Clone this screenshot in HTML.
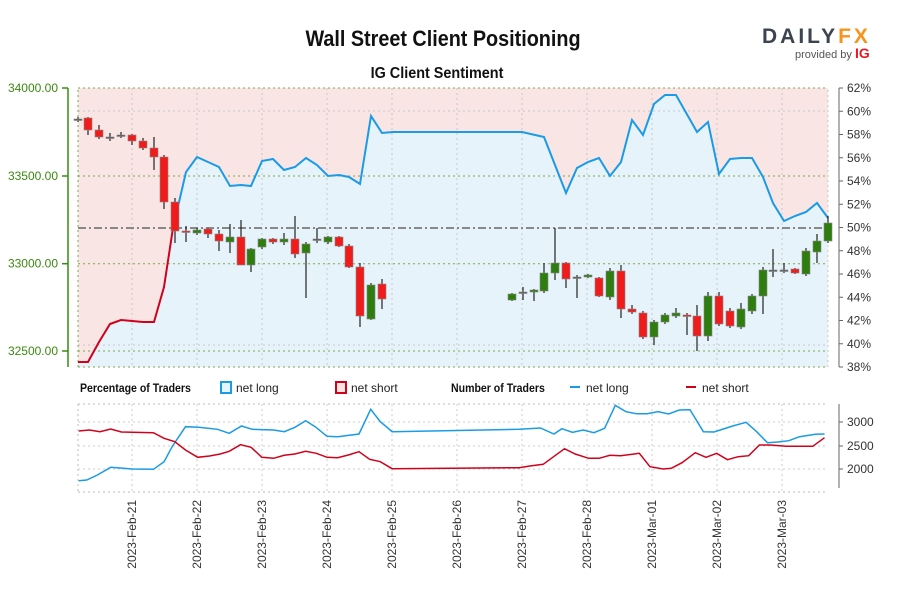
<!DOCTYPE html>
<html><head><meta charset="utf-8"><style>
body{margin:0;background:#fff;width:900px;height:600px;overflow:hidden;font-family:"Liberation Sans",sans-serif}
</style></head><body>
<svg id="s" width="900" height="600" xmlns="http://www.w3.org/2000/svg" font-family="Liberation Sans, sans-serif">
<text x="443" y="46" text-anchor="middle" font-size="22" font-weight="bold" fill="#111" transform="translate(443,0) scale(0.9,1) translate(-443,0)">Wall Street Client Positioning</text>
<text x="437" y="78" text-anchor="middle" font-size="16" font-weight="bold" fill="#111" transform="translate(437,0) scale(0.9,1) translate(-437,0)">IG Client Sentiment</text>
<text x="762" y="43" font-size="21" font-weight="bold" fill="#3d4450" letter-spacing="3">DAILY<tspan fill="#f7941d">FX</tspan></text>
<text x="795" y="58" font-size="11" fill="#555">provided by <tspan fill="#e31b23" font-weight="bold" font-size="14">IG</tspan></text>
<g id="main"></g>
</svg>
<script>
const NS="http://www.w3.org/2000/svg",g=document.getElementById('main');
function el(t,a,txt){const e=document.createElementNS(NS,t);for(const k in a)e.setAttribute(k,a[k]);if(txt!=null)e.textContent=txt;g.appendChild(e);return e}
const L=78,R=828,T=88,B=367;
const line=[[78,362],[88,362],[99,342],[110,324],[121,320],[132,321],[143,322],[154,322],[164,287],[173,228],[186,172],[197,157],[208,162],[219,167],[230,186],[241,185],[251,186],[262,161],[273,159],[284,170],[295,167],[306,158],[317,165],[328,176],[339,175],[349,177],[360,184],[371,116],[382,133],[393,132],[522,132],[544,137],[566,193],[577,168],[588,162],[599,158],[610,176],[621,162],[632,120],[643,135],[654,104],[665,95],[676,95],[697,132],[708,122],[719,174],[730,159],[741,158],[752,158],[763,177],[773,203],[784,221],[795,216],[806,212],[817,203],[828,218]];
const pts=line.map(p=>p.join(',')).join(' ');
el('rect',{x:L,y:T,width:R-L,height:B-T,fill:'#fae5e5'});
el('polygon',{points:pts+` ${R},${B} ${L},${B}`,fill:'#e6f3fb'});
const days=[132,197,262,327,392,457,522,587,652,717,782];
days.forEach(x=>el('line',{x1:x,y1:T,x2:x,y2:B,stroke:'#c8c8c8','stroke-dasharray':'2,3'}));
[111,345].forEach(y=>el('line',{x1:L,y1:y,x2:R,y2:y,stroke:'#c8c8c8','stroke-dasharray':'2,3'}));
[88,176,263.7,351,367].forEach(y=>el('line',{x1:L,y1:y,x2:R,y2:y,stroke:'#7aa84a','stroke-dasharray':'2,3'}));
el('line',{x1:L,y1:B,x2:L,y2:T,stroke:'#7aa84a','stroke-dasharray':'2,3'});
el('line',{x1:R,y1:B,x2:R,y2:T,stroke:'#c8c8c8','stroke-dasharray':'2,3'});
el('line',{x1:L,y1:228,x2:R,y2:228,stroke:'#888','stroke-width':2,'stroke-dasharray':'8,3,2,3'});
const idx=line.findIndex(p=>p[0]==173);
el('polyline',{points:line.slice(0,idx+1).map(p=>p.join(',')).join(' '),fill:'none',stroke:'#d0021b','stroke-width':2});
el('polyline',{points:line.slice(idx).map(p=>p.join(',')).join(' '),fill:'none',stroke:'#1a9be6','stroke-width':2});
el('line',{x1:68,y1:88,x2:68,y2:367,stroke:'#3a8a10','stroke-width':1.5});
[[34000,88],[33500,176],[33000,263.7],[32500,351]].forEach(([v,y])=>{el('line',{x1:62,y1:y,x2:68,y2:y,stroke:'#3a8a10','stroke-width':1.5});el('text',{x:58,y:y+4,'text-anchor':'end','font-size':12,fill:'#3a8a10'},v.toFixed(2))});
el('line',{x1:839,y1:88,x2:839,y2:367,stroke:'#666'});
for(let i=0;i<13;i++){const v=62-2*i,y=88+i*23.25;el('line',{x1:839,y1:y,x2:843,y2:y,stroke:'#666'});el('text',{x:847,y:y+4,'font-size':12,fill:'#333'},v+'%')}
const C=[[78,119,119,117,122],[88,118,130,117,135],[99,130,137,125,139],[110,137,137,133,141],[121,135,135,132,138],[132,135,141,134,145],[143,141,148,138,150],[154,148,157,137,170],[164,157,202,155,209],[175,202,231,198,243],[186,231,232,226,242],[197,233,230,228,235],[208,229,234,228,238],[219,234,241,230,251],[230,242,237,224,253],[241,237,265,220,265],[251,265,249,248,272],[262,247,239,238,249],[273,239,242,238,244],[284,242,239,233,245],[295,239,254,216,258],[306,253,244,242,298],[317,239,239,228,243],[328,242,237,236,244],[339,237,246,236,247],[349,246,267,244,268],[360,267,316,263,327],[371,319,285,283,320],[382,284,299,279,309],[512,300,294,293,301],[523,292,292,287,300],[534,292,290,289,301],[544,291,273,263,293],[555,273,263,228,280],[566,263,279,262,288],[577,277,277,275,298],[588,277,275,274,278],[599,278,296,277,297],[610,297,271,268,300],[621,271,309,265,318],[632,309,312,305,314],[643,313,337,311,339],[654,337,322,320,345],[665,322,315,313,324],[676,316,313,308,318],[687,315,316,313,335],[697,316,336,305,351],[708,336,296,292,341],[719,296,324,292,326],[730,311,326,308,328],[741,327,309,303,329],[752,311,296,294,314],[763,296,270,267,314],[773,270,270,249,277],[784,270,270,263,273],[795,269,273,268,274],[806,274,251,248,276],[817,252,241,234,263],[828,241,223,216,243]];
C.forEach(([x,o,c,h,l])=>{el('line',{x1:x,y1:h,x2:x,y2:l,stroke:'#222','stroke-width':1.2});const top=Math.min(o,c),ht=Math.max(Math.abs(o-c),1.5);const col=Math.abs(o-c)<1?'#555':(c<o?'#2e7d0e':'#f01c1c');el('rect',{x:x-4,y:top,width:8,height:ht,fill:col,stroke:'#888','stroke-width':0.6})});
el('text',{x:80,y:392,'font-size':12,'font-weight':'bold',fill:'#111',transform:'translate(80,0) scale(0.88,1) translate(-80,0)'},'Percentage of Traders');
el('rect',{x:221,y:382,width:10,height:11,fill:'#e6f3fb',stroke:'#1a9be6','stroke-width':2});
el('text',{x:236,y:392,'font-size':12,fill:'#222'},'net long');
el('rect',{x:336,y:382,width:10,height:11,fill:'#fae5e5',stroke:'#d0021b','stroke-width':2});
el('text',{x:351,y:392,'font-size':12,fill:'#222'},'net short');
el('text',{x:451,y:392,'font-size':12,'font-weight':'bold',fill:'#111',transform:'translate(451,0) scale(0.88,1) translate(-451,0)'},'Number of Traders');
el('line',{x1:570,y1:387,x2:580,y2:387,stroke:'#1a9be6','stroke-width':2});
el('text',{x:586,y:392,'font-size':12,fill:'#222'},'net long');
el('line',{x1:686,y1:387,x2:696,y2:387,stroke:'#d0021b','stroke-width':2});
el('text',{x:702,y:392,'font-size':12,fill:'#222'},'net short');
const LT=404,LB=492;
el('line',{x1:L,y1:LT,x2:R,y2:LT,stroke:'#bbb','stroke-dasharray':'2,3'});
el('line',{x1:L,y1:LB,x2:R,y2:LB,stroke:'#bbb','stroke-dasharray':'2,3'});
el('line',{x1:L,y1:LT,x2:L,y2:LB,stroke:'#bbb','stroke-dasharray':'2,3'});
days.forEach(x=>el('line',{x1:x,y1:LT,x2:x,y2:LB,stroke:'#ccc','stroke-dasharray':'2,3'}));
[[3000,422],[2500,446],[2000,469]].forEach(([v,y])=>{el('line',{x1:L,y1:y,x2:R,y2:y,stroke:'#ccc','stroke-dasharray':'2,3'});el('line',{x1:839,y1:y,x2:843,y2:y,stroke:'#666'});el('text',{x:847,y:y+4,'font-size':12,fill:'#333'},v)});
el('line',{x1:839,y1:404,x2:839,y2:488,stroke:'#666'});
const cv=a=>a.map(([x,y])=>(x/1.873+60).toFixed(1)+','+(y/3+370).toFixed(1)).join(' ');
const bl=[[35,332],[50,330],[70,315],[95,292],[135,297],[175,298],[195,275],[210,230],[235,170],[260,172],[295,178],[317,190],[340,168],[360,178],[400,180],[420,185],[440,172],[460,152],[478,170],[500,199],[520,200],[560,192],[582,118],[600,155],[622,185],[860,178],[900,174],[925,192],[940,176],[960,187],[980,180],[1000,188],[1020,175],[1040,106],[1060,125],[1080,131],[1100,131],[1120,125],[1140,132],[1160,120],[1180,119],[1205,185],[1225,186],[1260,168],[1285,157],[1305,185],[1325,218],[1345,216],[1365,212],[1385,200],[1415,193],[1432,192]];
const rd=[[35,183],[55,180],[75,185],[95,177],[115,186],[175,188],[195,205],[215,215],[235,240],[258,262],[280,258],[300,252],[317,244],[338,224],[358,232],[378,262],[400,265],[420,256],[440,252],[460,244],[480,250],[500,262],[520,263],[540,255],[560,245],[580,268],[600,275],[622,296],[860,293],[880,288],[905,283],[945,236],[965,252],[990,265],[1010,265],[1030,256],[1050,257],[1085,250],[1105,290],[1130,297],[1145,295],[1165,278],[1190,248],[1210,262],[1230,250],[1250,269],[1270,260],[1290,257],[1310,225],[1330,225],[1360,229],[1380,229],[1410,229],[1432,203]];
el('polyline',{points:cv(bl),fill:'none',stroke:'#1a9be6','stroke-width':1.5});
el('polyline',{points:cv(rd),fill:'none',stroke:'#d0021b','stroke-width':1.5});
const names=['2023-Feb-21','2023-Feb-22','2023-Feb-23','2023-Feb-24','2023-Feb-25','2023-Feb-26','2023-Feb-27','2023-Feb-28','2023-Mar-01','2023-Mar-02','2023-Mar-03'];
days.forEach((x,i)=>el('text',{x:0,y:0,'font-size':12,fill:'#333','text-anchor':'end',transform:`translate(${x+4},500) rotate(-90)`},names[i]));
</script>
</body></html>
